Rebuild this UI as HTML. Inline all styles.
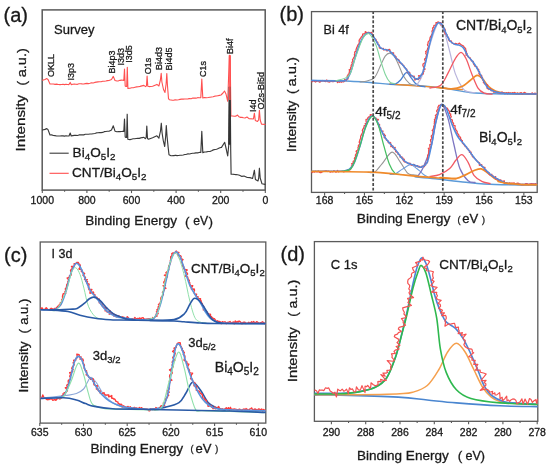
<!DOCTYPE html><html><head><meta charset="utf-8"><style>html,body{margin:0;padding:0;background:#fff;}svg{display:block;filter:blur(0.35px);}</style></head><body><svg width="550" height="465" viewBox="0 0 550 465" style="font-family:&quot;Liberation Sans&quot;, sans-serif">
<style>text{stroke:#1a1a1a;stroke-width:0.3px;paint-order:fill;}</style>
<rect width="550" height="465" fill="#fff"/>
<rect x="42.2" y="9.9" width="223" height="180.2" fill="none" stroke="#5a5a5a" stroke-width="1.5"/>
<line x1="42.3" y1="190.1" x2="42.3" y2="193.1" stroke="#5a5a5a" stroke-width="1.1"/>
<line x1="86.9" y1="190.1" x2="86.9" y2="193.1" stroke="#5a5a5a" stroke-width="1.1"/>
<line x1="131.5" y1="190.1" x2="131.5" y2="193.1" stroke="#5a5a5a" stroke-width="1.1"/>
<line x1="176.1" y1="190.1" x2="176.1" y2="193.1" stroke="#5a5a5a" stroke-width="1.1"/>
<line x1="220.7" y1="190.1" x2="220.7" y2="193.1" stroke="#5a5a5a" stroke-width="1.1"/>
<line x1="265.3" y1="190.1" x2="265.3" y2="193.1" stroke="#5a5a5a" stroke-width="1.1"/>
<line x1="64.6" y1="190.1" x2="64.6" y2="191.7" stroke="#5a5a5a" stroke-width="1.1"/>
<line x1="109.2" y1="190.1" x2="109.2" y2="191.7" stroke="#5a5a5a" stroke-width="1.1"/>
<line x1="153.8" y1="190.1" x2="153.8" y2="191.7" stroke="#5a5a5a" stroke-width="1.1"/>
<line x1="198.4" y1="190.1" x2="198.4" y2="191.7" stroke="#5a5a5a" stroke-width="1.1"/>
<line x1="243" y1="190.1" x2="243" y2="191.7" stroke="#5a5a5a" stroke-width="1.1"/>
<text x="42.3" y="203.8" font-size="10.5" text-anchor="middle" fill="#1a1a1a" >1000</text>
<text x="86.9" y="203.8" font-size="10.5" text-anchor="middle" fill="#1a1a1a" >800</text>
<text x="131.5" y="203.8" font-size="10.5" text-anchor="middle" fill="#1a1a1a" >600</text>
<text x="176.1" y="203.8" font-size="10.5" text-anchor="middle" fill="#1a1a1a" >400</text>
<text x="220.7" y="203.8" font-size="10.5" text-anchor="middle" fill="#1a1a1a" >200</text>
<text x="265.3" y="203.8" font-size="10.5" text-anchor="middle" fill="#1a1a1a" >0</text>
<text x="3.5" y="21.5" font-size="20" text-anchor="start" fill="#1a1a1a" >(a)</text>
<text x="54" y="34.2" font-size="13" text-anchor="start" fill="#1a1a1a" >Survey</text>
<text x="85.2" y="225.2" font-size="13.5" text-anchor="start" fill="#1a1a1a" textLength="91.9" lengthAdjust="spacingAndGlyphs" >Binding Energy</text>
<text x="185.1" y="225.7" font-size="13.5" text-anchor="start" fill="#1a1a1a" >(</text>
<text x="208.4" y="225.7" font-size="13.5" text-anchor="start" fill="#1a1a1a" >)</text>
<text x="193.3" y="225.2" font-size="13.5" text-anchor="start" fill="#1a1a1a" textLength="14.9" lengthAdjust="spacingAndGlyphs" >eV</text>
<text x="0" y="0" font-size="13.5" text-anchor="start" fill="#1a1a1a" textLength="56.6" lengthAdjust="spacingAndGlyphs" transform="translate(25.3,151.4) rotate(-90)">Intensity</text>
<text x="0" y="0" font-size="13.5" text-anchor="start" fill="#1a1a1a" transform="translate(25.6,85.4) rotate(-90)">(</text>
<text x="0" y="0" font-size="13.5" text-anchor="start" fill="#1a1a1a" textLength="29.1" lengthAdjust="spacingAndGlyphs" transform="translate(25.6,77.3) rotate(-90)">a.u.)</text>
<path d="M42.5 80.2 L45 79.4 L46.8 78.6 L48 79.5 L50 84 L51.67 83.99 L53.33 83.99 L55 84.39 L56.67 84.14 L58.33 84.52 L60 84.6 L61.5 84.52 L63 84.33 L64.5 84.6 L66 84.32 L67.5 84.56 L69 84.6 L70.2 82.4 L71.2 84.6 L72.77 84.23 L74.33 84.12 L75.9 84.2 L77.47 84.33 L79.03 83.79 L80.6 83.73 L82.17 83.86 L83.73 83.94 L85.3 83.6 L86.87 83.37 L88.43 83.6 L90 83.2 L91.58 82.7 L93.17 82.97 L94.75 82.4 L96.33 82.09 L97.92 81.85 L99.5 81.74 L101.08 81.81 L102.67 81.21 L104.25 81.22 L105.83 81.03 L107.42 80.65 L109 80.5 L111.5 79.5 L113.3 76.4 L115 80.5 L117 81 L118.5 80.83 L120 80.34 L121.5 80.14 L123 80.2 L123.8 80.5 L124.5 69 L125.2 86 L126 86.5 L126.7 86.5 L127.3 67.3 L127.9 88.4 L130 88.2 L131.67 87.72 L133.33 87.71 L135 87.26 L136.67 86.89 L138.33 86.75 L140 86.4 L143.9 85.4 L145.5 86.6 L146.5 85.8 L147.1 76 L147.8 86.2 L149 86.6 L152.6 86.3 L156.9 84.4 L158.9 86 L160.4 80 L161.2 73.2 L161.9 82 L163.5 89.5 L165 92.5 L166.1 84 L166.8 73.6 L167.5 86 L168.5 98.6 L169.5 99.8 L172.4 100.3 L173.92 100.09 L175.44 99.82 L176.96 99.94 L178.48 99.7 L180 99.4 L181.6 99.11 L183.2 99.17 L184.8 99 L186.4 99.07 L188 98.85 L189.6 98.44 L191.2 98.72 L192.8 98.06 L194.4 98.1 L196 98.17 L197.6 97.67 L199.2 97.73 L200.8 97.6 L201.8 79 L202.8 98 L204.6 97.52 L206.4 97.7 L208.2 97.56 L210 97.2 L211.57 96.93 L213.14 96.8 L214.71 96.15 L216.29 96.06 L217.86 95.69 L219.43 95.36 L221 95 L223 93 L224.5 91 L226 94 L227.7 101.3 L229.4 55.2 L230.2 55.5 L230.9 116 L232.6 116.01 L234.3 116.27 L236 116.1 L237.5 115 L239 116.8 L240.5 117.37 L242 117.38 L243.5 117.8 L245 118 L247 117 L249 118.6 L253.4 119 L254.4 113.2 L255.3 120.5 L257.5 121.4 L258.6 120 L259.4 110.3 L260.2 120 L261.5 124.2 L265 124.4" fill="none" stroke="#ff5050" stroke-width="1.1" stroke-linejoin="round" stroke-linecap="round" />
<path d="M42.5 130 L45 129.4 L46.8 128.6 L48 129.6 L50 135 L51.67 134.9 L53.33 135.45 L55 135.59 L56.67 135.96 L58.33 136.03 L60 136 L61.5 135.87 L63 135.93 L64.5 136.1 L66 135.71 L67.5 135.98 L69 136 L70.2 133 L71.2 136 L72.77 135.63 L74.33 135.44 L75.9 135.24 L77.47 135.49 L79.03 134.94 L80.6 134.85 L82.17 134.77 L83.73 134.89 L85.3 134.25 L86.87 134.3 L88.43 134.2 L90 134 L91.58 134 L93.17 133.72 L94.75 133.52 L96.33 132.93 L97.92 132.78 L99.5 132.52 L101.08 132.6 L102.67 132.41 L104.25 131.69 L105.83 131.47 L107.42 131.27 L109 131.2 L111.5 130 L113.3 125.8 L115 131.2 L117 131.8 L118.5 131.54 L120 131.59 L121.5 131.55 L123 131.4 L123.8 131.5 L124.5 119 L125.2 137 L126 137.5 L126.6 137.5 L127.2 114.2 L127.8 139.2 L130 139.6 L131.54 139.2 L133.09 138.79 L134.63 138.78 L136.18 138.5 L137.72 138.36 L139.27 138.34 L140.81 137.93 L142.36 137.56 L143.9 137.3 L145.3 138.7 L146.2 137.5 L146.8 126.1 L147.5 138.5 L148.5 139.2 L152.6 137.7 L156.9 135.8 L158.9 138.2 L160.5 131 L161.3 123.2 L162.1 133 L163.2 140.2 L164.7 146.5 L165.7 136 L166.3 125.6 L167.1 137 L168.1 146.9 L169 154.7 L171 155.7 L172.5 155.69 L174 155.64 L175.5 155.18 L177 155.61 L178.5 155.45 L180 155.2 L181.6 155.22 L183.2 154.96 L184.8 154.51 L186.4 154.31 L188 153.92 L189.6 154.03 L191.2 153.48 L192.8 153.28 L194.4 153.16 L196 152.92 L197.6 152.82 L199.2 152.44 L200.8 152.5 L201.8 131.3 L202.8 152.6 L204.6 152.03 L206.4 151.84 L208.2 151.54 L210 151.5 L211.67 150.75 L213.33 149.88 L215 149.5 L216.62 149.2 L218.25 148.52 L219.88 147.71 L221.5 147.4 L224.7 142.3 L226 148 L227.7 156 L228.8 144.7 L229.2 87 L230.2 87 L230.7 150 L231.1 174.2 L232.72 174.2 L234.35 174.41 L235.97 174.57 L237.6 174.8 L239.5 175.2 L241.9 176.4 L244 176 L247.3 177.5 L250 177.6 L252.6 178.5 L254.4 170.2 L255.4 179.5 L258 180.9 L258.7 178 L259.4 168.2 L260.2 178 L262 183.8 L265 184.4" fill="none" stroke="#3a3a3a" stroke-width="1.15" stroke-linejoin="round" stroke-linecap="round" />
<path d="M228.2 144.7 L229.0 92 L230.1 92 L230.9 144.7 Z" fill="#333"/>
<path d="M229.3 55.5 L229.5 100 M230.3 55.5 L230.2 100" stroke="#ff5050" stroke-width="0.9" fill="none"/>
<line x1="49.5" y1="153.2" x2="68.7" y2="153.2" stroke="#3a3a3a" stroke-width="1.1"/>
<line x1="49.5" y1="173.3" x2="68.7" y2="173.3" stroke="#ff4d4d" stroke-width="1.1"/>
<text x="72.6" y="156.9" font-size="13.6" text-anchor="start" fill="#1a1a1a" >Bi<tspan font-size="9.8" dy="3">4</tspan><tspan dy="-3">O</tspan><tspan font-size="9.8" dy="3">5</tspan><tspan dy="-3">I</tspan><tspan font-size="9.8" dy="3">2</tspan></text>
<text x="72" y="176.6" font-size="13.6" text-anchor="start" fill="#1a1a1a" >CNT/Bi<tspan font-size="9.8" dy="3">4</tspan><tspan dy="-3">O</tspan><tspan font-size="9.8" dy="3">5</tspan><tspan dy="-3">I</tspan><tspan font-size="9.8" dy="3">2</tspan></text>
<text x="0" y="0" font-size="9" text-anchor="start" fill="#1a1a1a" transform="translate(53.54,77) rotate(-90)">OKLL</text>
<text x="0" y="0" font-size="9" text-anchor="start" fill="#1a1a1a" transform="translate(74.04,80.5) rotate(-90)">I3p3</text>
<text x="0" y="0" font-size="9" text-anchor="start" fill="#1a1a1a" transform="translate(114.54,73.6) rotate(-90)">Bi4p3</text>
<text x="0" y="0" font-size="9" text-anchor="start" fill="#1a1a1a" transform="translate(124.04,65.5) rotate(-90)">I3d3</text>
<text x="0" y="0" font-size="9" text-anchor="start" fill="#1a1a1a" transform="translate(132.04,62.7) rotate(-90)">I3d5</text>
<text x="0" y="0" font-size="9" text-anchor="start" fill="#1a1a1a" transform="translate(150.54,74.2) rotate(-90)">O1s</text>
<text x="0" y="0" font-size="9" text-anchor="start" fill="#1a1a1a" transform="translate(161.74,70) rotate(-90)">Bi4d3</text>
<text x="0" y="0" font-size="9" text-anchor="start" fill="#1a1a1a" transform="translate(172.14,70.5) rotate(-90)">Bi4d5</text>
<text x="0" y="0" font-size="9" text-anchor="start" fill="#1a1a1a" transform="translate(205.94,77) rotate(-90)">C1s</text>
<text x="0" y="0" font-size="9" text-anchor="start" fill="#1a1a1a" transform="translate(232.54,53.9) rotate(-90)">Bi4f</text>
<text x="0" y="0" font-size="9" text-anchor="start" fill="#1a1a1a" transform="translate(256.24,112) rotate(-90)">I4d</text>
<text x="0" y="0" font-size="9" text-anchor="start" fill="#1a1a1a" transform="translate(264.04,109.4) rotate(-90)">O2s-Bi5d</text>
<rect x="311.5" y="11.6" width="225.7" height="180.8" fill="none" stroke="#5a5a5a" stroke-width="1.3"/>
<line x1="324.6" y1="192.4" x2="324.6" y2="195.4" stroke="#5a5a5a" stroke-width="1.1"/>
<line x1="364.45" y1="192.4" x2="364.45" y2="195.4" stroke="#5a5a5a" stroke-width="1.1"/>
<line x1="404.3" y1="192.4" x2="404.3" y2="195.4" stroke="#5a5a5a" stroke-width="1.1"/>
<line x1="444.15" y1="192.4" x2="444.15" y2="195.4" stroke="#5a5a5a" stroke-width="1.1"/>
<line x1="484" y1="192.4" x2="484" y2="195.4" stroke="#5a5a5a" stroke-width="1.1"/>
<line x1="523.85" y1="192.4" x2="523.85" y2="195.4" stroke="#5a5a5a" stroke-width="1.1"/>
<line x1="344.53" y1="192.4" x2="344.53" y2="194" stroke="#5a5a5a" stroke-width="1.1"/>
<line x1="384.38" y1="192.4" x2="384.38" y2="194" stroke="#5a5a5a" stroke-width="1.1"/>
<line x1="424.23" y1="192.4" x2="424.23" y2="194" stroke="#5a5a5a" stroke-width="1.1"/>
<line x1="464.08" y1="192.4" x2="464.08" y2="194" stroke="#5a5a5a" stroke-width="1.1"/>
<line x1="503.93" y1="192.4" x2="503.93" y2="194" stroke="#5a5a5a" stroke-width="1.1"/>
<text x="324.6" y="204.2" font-size="10.5" text-anchor="middle" fill="#1a1a1a" >168</text>
<text x="364.45" y="204.2" font-size="10.5" text-anchor="middle" fill="#1a1a1a" >165</text>
<text x="404.3" y="204.2" font-size="10.5" text-anchor="middle" fill="#1a1a1a" >162</text>
<text x="444.15" y="204.2" font-size="10.5" text-anchor="middle" fill="#1a1a1a" >159</text>
<text x="484" y="204.2" font-size="10.5" text-anchor="middle" fill="#1a1a1a" >156</text>
<text x="523.85" y="204.2" font-size="10.5" text-anchor="middle" fill="#1a1a1a" >153</text>
<text x="279.5" y="20.5" font-size="20" text-anchor="start" fill="#1a1a1a" >(b)</text>
<text x="323.6" y="34.2" font-size="12.5" text-anchor="start" fill="#1a1a1a" >Bi 4f</text>
<text x="356.7" y="223.2" font-size="13.5" text-anchor="start" fill="#1a1a1a" textLength="93.7" lengthAdjust="spacingAndGlyphs" >Binding Energy</text>
<text x="457.4" y="222.9" font-size="9" text-anchor="start" fill="#1a1a1a" >(</text>
<text x="481.9" y="222.9" font-size="9" text-anchor="start" fill="#1a1a1a" >)</text>
<text x="462.2" y="223.2" font-size="13.5" text-anchor="start" fill="#1a1a1a" textLength="16" lengthAdjust="spacingAndGlyphs" >eV</text>
<text x="0" y="0" font-size="13.5" text-anchor="start" fill="#1a1a1a" textLength="51.4" lengthAdjust="spacingAndGlyphs" transform="translate(295.5,151.9) rotate(-90)">Intensity</text>
<text x="0" y="0" font-size="13.5" text-anchor="start" fill="#1a1a1a" transform="translate(295.8,94.1) rotate(-90)">(</text>
<text x="0" y="0" font-size="13.5" text-anchor="start" fill="#1a1a1a" textLength="29.6" lengthAdjust="spacingAndGlyphs" transform="translate(295.8,86.6) rotate(-90)">a.u.)</text>
<path d="M312 80.4 C316.67 80.45 330.32 80.37 340 80.7 C349.68 81.03 361.82 81.8 370.1 82.4 C378.38 83 382.22 83.82 389.7 84.3 C397.18 84.78 406.22 84.67 415 85.3 C423.78 85.93 433.27 86.92 442.4 88.1 C451.53 89.28 461.03 91.45 469.8 92.4 C478.57 93.35 483.88 93.5 495 93.8 C506.12 94.1 529.58 94.13 536.5 94.2" fill="none" stroke="#5b9ad8" stroke-width="1.5" stroke-linejoin="round" stroke-linecap="round"/>
<path d="M389.7 84.1 C393.92 84.38 407.73 85.3 415 85.8 C422.27 86.3 427.22 86.6 433.3 87.1 C439.38 87.6 446.63 88.38 451.5 88.8 C456.37 89.22 460.67 89.47 462.5 89.6" fill="none" stroke="#f08a2a" stroke-width="1.4" stroke-linejoin="round" stroke-linecap="round"/>
<path d="M360 82 C361.18 81.83 364.65 81.78 367.1 81 C369.55 80.22 372.43 79.93 374.7 77.3 C376.97 74.67 378.95 68.72 380.7 65.2 C382.45 61.68 383.7 58.22 385.2 56.2 C386.7 54.18 388.2 53.1 389.7 53.1 C391.2 53.1 392.68 54.18 394.2 56.2 C395.72 58.22 397.28 61.95 398.8 65.2 C400.32 68.45 401.55 72.68 403.3 75.7 C405.05 78.72 407.35 81.67 409.3 83.3 C411.25 84.93 414.05 85.13 415 85.5" fill="none" stroke="#969696" stroke-width="1.1" stroke-linejoin="round" stroke-linecap="round"/>
<path d="M390 84.3 C390.95 84.22 393.98 84.47 395.7 83.8 C397.42 83.13 398.53 82.15 400.3 80.3 C402.07 78.45 404.55 73.2 406.3 72.7 C408.05 72.2 409.3 75.53 410.8 77.3 C412.3 79.07 413.77 81.85 415.3 83.3 C416.83 84.75 418.38 85.42 420 86 C421.62 86.58 424.17 86.67 425 86.8" fill="none" stroke="#4a80d0" stroke-width="1.3" stroke-linejoin="round" stroke-linecap="round"/>
<path d="M416 86 C417.05 84.22 420.03 81.97 422.3 75.3 C424.57 68.63 427.17 54.38 429.6 46 C432.03 37.62 435.22 28.65 436.9 25 C438.58 21.35 438.48 23.03 439.7 24.1 C440.92 25.17 442.53 26.83 444.2 31.4 C445.87 35.97 447.87 44.5 449.7 51.5 C451.53 58.5 453.07 67.3 455.2 73.4 C457.33 79.5 460.37 85.05 462.5 88.1 C464.63 91.15 465.92 90.95 468 91.7 C470.08 92.45 473.83 92.45 475 92.6" fill="none" stroke="#b8b4dc" stroke-width="1.2" stroke-linejoin="round" stroke-linecap="round"/>
<path d="M430 88 C431.77 87.55 437.62 87.73 440.6 85.3 C443.58 82.87 445.47 77.82 447.9 73.4 C450.33 68.98 453.02 62.3 455.2 58.8 C457.38 55.3 459.18 52.4 461 52.4 C462.82 52.4 464.33 55.3 466.1 58.8 C467.87 62.3 469.62 68.52 471.6 73.4 C473.58 78.28 475.87 84.8 478 88.1 C480.13 91.4 482.07 92.18 484.4 93.2 C486.73 94.22 490.73 94.03 492 94.2" fill="none" stroke="#f25a64" stroke-width="1.3" stroke-linejoin="round" stroke-linecap="round"/>
<path d="M440 87.6 C441.92 87.82 447.75 89.13 451.5 88.9 C455.25 88.67 459.45 87.55 462.5 86.2 C465.55 84.85 467.37 82.62 469.8 80.8 C472.23 78.98 474.97 75.62 477.1 75.3 C479.23 74.98 480.77 77.08 482.6 78.9 C484.43 80.72 486.03 84.22 488.1 86.2 C490.17 88.18 492.18 89.67 495 90.8 C497.82 91.93 498.08 92.47 505 93 C511.92 93.53 531.25 93.83 536.5 94" fill="none" stroke="#f08a2a" stroke-width="1.7" stroke-linejoin="round" stroke-linecap="round"/>
<path d="M311.98 81.87 L312.91 81 L313.75 80.68 L314.69 81.52 L315.55 81.98 L316.49 81.3 L317.49 81.02 L318.33 80.69 L319.17 81.98 L320.05 82.03 L320.98 80.95 L321.91 81.09 L322.86 80.52 L323.81 80.84 L324.77 81.45 L325.74 81.56 L326.73 80.01 L327.68 81.59 L328.64 81.88 L329.6 82.09 L330.55 81.42 L331.48 81.4 L332.4 81.68 L333.29 81.53 L334.15 81.35 L334.99 81.13 L335.8 80.91 L336.75 81.4 L337.65 82.5 L338.47 81.13 L339.37 82.29 L340.53 81.59 L341.45 82.3 L342.56 81.5 L343.37 81.95 L344.34 81.41 L344.54 79.64 L346.24 80.61 L346.34 79.09 L347.84 79.21 L348 78.06 L347.08 76.28 L347.97 75.53 L348.09 74.71 L348.58 73.99 L349.52 73.38 L349.1 72.14 L350.17 71.45 L349.15 69.91 L350.77 69.18 L350.52 67.76 L351.26 66.59 L351.14 65.12 L352.35 64 L351.89 62.4 L352.87 61.22 L352.52 59.67 L353.24 58.48 L353.88 57.32 L354.76 56.22 L354.34 54.7 L354.89 53.49 L354.66 52.03 L356.12 51.11 L356.02 49.72 L356.44 48.51 L356.95 47.37 L357.38 46.24 L357.8 45.15 L358.59 44.26 L359.2 43.38 L359.29 42.32 L359.19 41.21 L359.14 40.13 L359.81 39.44 L360.18 38.63 L360.73 37.95 L361.38 36.93 L362.24 36.13 L362.62 35.06 L362.86 33.89 L364.38 33.97 L365.18 33.52 L365.28 31.65 L367.23 33.03 L367.94 32.37 L369.06 32.32 L369.62 33.59 L371.4 32.36 L372.07 33.37 L372.07 34.61 L372.91 35.05 L373.22 36.02 L373.32 37.19 L374.25 37.9 L375.06 38.75 L375.98 39.53 L376.35 40.59 L376.62 41.73 L377.83 42.41 L377.4 44.02 L378.72 44.61 L379.43 45.45 L379.38 46.72 L379.38 47.99 L380.52 48.36 L381.63 48.36 L382.44 48.6 L383.4 48.38 L383.74 49.99 L384.84 49.64 L385.67 49.34 L386.45 49.82 L386.99 51.1 L388.37 49.69 L389.67 49.44 L390.11 50.62 L390.19 52.05 L391.1 52.52 L392.09 53.02 L393.62 52.85 L393.41 54.23 L393.76 55.14 L394.96 55.43 L394.83 56.74 L396.26 56.79 L395.78 58.34 L396.61 59 L397.83 59.25 L398.68 59.52 L398.99 60.38 L399.45 61.09 L399.2 62.49 L400.21 62.68 L400.84 63.29 L401.46 63.92 L402.51 64.2 L402.71 65.22 L403.77 65.53 L404.05 66.5 L404.46 67.37 L405.24 67.96 L405.97 68.66 L406.75 69.35 L406.74 70.61 L407.44 71.35 L407.53 72.53 L409.39 72.26 L409.89 72.96 L409.82 74.19 L410.32 74.89 L410.67 75.75 L411.97 75.82 L412.77 76.41 L414.16 76.08 L414.31 77.53 L414.7 78.67 L414.95 80.11 L416.54 78.56 L417.27 79.1 L418.49 79.53 L418.71 78.13 L420 78.27 L418.54 75.73 L420.11 75.85 L420.94 75.2 L421.86 74.47 L423.36 73.9 L422.81 72.4 L423.97 71.53 L423.26 69.93 L425.09 69.06 L423.65 67.19 L422.89 65.49 L423.02 63.98 L424.9 62.86 L425.46 61.38 L424.56 59.52 L424.76 58.73 L425.93 58.12 L425.96 57.24 L426.15 56.36 L426.61 55.53 L426.52 54.57 L425.67 53.45 L426.16 52.6 L425.61 51.53 L426.95 50.85 L427.17 49.94 L427.81 49.13 L427.54 48.14 L428.37 47.4 L428.81 46.59 L427.67 45.44 L427.47 44.52 L427.99 43.8 L428.11 42.19 L429.08 40.83 L429.99 39.49 L429.95 37.93 L430.59 36.61 L431.38 35.38 L432.07 34.2 L432.36 32.95 L431.98 31.54 L432.31 30.39 L433.05 29.44 L432.53 28 L433.6 27.33 L433.84 26.35 L433.96 25.36 L435.36 25.17 L436.46 24.56 L435.82 22.82 L437.18 22.42 L438.38 21.94 L439.48 22.58 L440.6 22.59 L441.42 23.26 L440.92 24.94 L442.73 24.78 L442.64 26.16 L442.97 26.96 L443.52 27.75 L444.52 28.44 L444.98 29.38 L445.44 30.34 L444.48 31.86 L445.42 32.57 L444.91 33.84 L446.45 34.2 L447.19 34.93 L446.89 36.11 L447.77 36.76 L448.15 37.61 L448.92 38.23 L448.44 39.47 L448.88 40.21 L449.54 41.08 L451.11 40.78 L451.56 41.72 L451.9 42.85 L452.8 43.23 L453.56 43.74 L454.35 44.1 L455.36 43.44 L456.19 43.65 L457.09 44.23 L458.18 44.03 L459.48 43.11 L460.14 44.01 L460.88 44.59 L461.71 45.14 L462.72 45.59 L463.75 46.24 L464.05 47.36 L465.06 47.96 L465.69 48.96 L465.79 50.29 L466.15 51.06 L466.42 51.87 L465.69 53.18 L467.03 53.45 L465.85 55.04 L467.26 55.2 L467.72 56.29 L468.3 57.09 L469.2 57.59 L470.24 57.92 L470.42 58.99 L470.95 59.74 L471.38 60.59 L472.18 61.1 L473.22 61.45 L473.23 62.63 L473.5 63.72 L474.03 64.61 L474.67 65.42 L475.1 66.39 L476.83 66.58 L477.04 67.73 L477.32 68.86 L478.7 69.41 L478.25 71.02 L479.31 71.39 L479.71 72.12 L478.92 73.45 L479.29 74.22 L479.97 74.84 L481.26 75.18 L481.83 75.87 L480.98 77.27 L482.49 77.48 L482.21 78.62 L482.59 79.33 L483.06 80.4 L483.72 81.41 L483.36 82.51 L484.14 83.03 L484.41 83.81 L485.64 84.06 L486.98 84.63 L487.86 85.36 L487.09 87.19 L487.17 88.49 L488.3 88.61 L488.84 89.47 L490.48 88.68 L490.76 89.76 L491.2 90.78 L492.34 90.27 L493.07 90.77 L493.56 92.18 L494.67 91.9 L495.58 92.02 L496.44 92.16 L497.33 92.38 L498.06 92.84 L499.04 92.74 L499.92 93.3 L500.84 93.18 L502.02 91.96 L502.86 92.67 L503.89 92.69 L504.97 93.88 L505.85 93.13 L506.81 92.63 L507.62 93.82 L508.57 92.54 L509.51 93.39 L510.32 92.98 L511.14 93.29 L512.01 93.12 L512.9 92.6 L513.77 93.5 L514.71 92.44 L515.62 93.74 L516.56 93.84 L517.53 92.96 L518.47 93.95 L519.44 93.58 L520.42 92.89 L521.39 92.74 L522.33 94.4 L523.3 93.15 L524.26 92.41 L525.2 92.8 L526.11 93.6 L527.02 93.81 L527.91 93.65 L528.77 94.13 L529.62 93.66 L530.44 93.62 L531.42 93.61 L532.36 92.89 L533.23 93.68 L534.04 94.36 L534.95 93 L535.84 94.18 L536.5 93.85" fill="none" stroke="#f04a4a" stroke-width="1.3" stroke-linejoin="round" stroke-linecap="round" />
<path d="M312 80.6 C316.67 80.65 334.33 81 340 80.9 C345.67 80.8 344.25 81.37 346 80 C347.75 78.63 348.98 76.42 350.5 72.7 C352.02 68.98 353.58 62.47 355.1 57.7 C356.62 52.93 358.1 47.75 359.6 44.1 C361.1 40.45 362.6 37.68 364.1 35.8 C365.6 33.92 367.22 32.92 368.6 32.8 C369.98 32.68 371.13 33.72 372.4 35.1 C373.67 36.48 374.95 39.1 376.2 41.1 C377.45 43.1 378.65 45.72 379.9 47.1 C381.15 48.48 382.32 48.9 383.7 49.4 C385.08 49.9 386.82 49.48 388.2 50.1 C389.58 50.72 390.75 51.83 392 53.1 C393.25 54.37 394.32 56.18 395.7 57.7 C397.08 59.22 398.78 60.57 400.3 62.2 C401.82 63.83 403.3 65.62 404.8 67.5 C406.3 69.38 407.8 71.87 409.3 73.5 C410.8 75.13 412.47 76.35 413.8 77.3 C415.13 78.25 415.88 79.85 417.3 79.2 C418.72 78.55 420.85 76.48 422.3 73.4 C423.75 70.32 424.78 65.57 426 60.7 C427.22 55.83 428.38 49.08 429.6 44.2 C430.82 39.32 432.08 34.75 433.3 31.4 C434.52 28.05 435.93 25.55 436.9 24.1 C437.87 22.65 438.18 22.55 439.1 22.7 C440.02 22.85 441.23 23.23 442.4 25 C443.57 26.77 444.88 30.7 446.1 33.3 C447.32 35.9 448.33 38.78 449.7 40.6 C451.07 42.42 452.78 43.45 454.3 44.2 C455.82 44.95 457.28 44.48 458.8 45.1 C460.32 45.72 461.87 46.07 463.4 47.9 C464.93 49.73 466.33 53.67 468 56.1 C469.67 58.53 471.73 60.22 473.4 62.5 C475.07 64.78 476.47 67.07 478 69.8 C479.53 72.53 480.92 75.85 482.6 78.9 C484.28 81.95 486.03 85.97 488.1 88.1 C490.17 90.23 492.18 90.82 495 91.7 C497.82 92.58 498.08 93.02 505 93.4 C511.92 93.78 531.25 93.9 536.5 94" fill="none" stroke="#4f8ade" stroke-width="1.5" stroke-linejoin="round" stroke-linecap="round"/>
<path d="M336 80.8 C338.17 79.92 345.82 79.22 349 75.5 C352.18 71.78 352.83 64.62 355.1 58.5 C357.37 52.38 360.47 42.95 362.6 38.8 C364.73 34.65 366.4 33.97 367.9 33.6 C369.4 33.23 370.22 34.6 371.6 36.6 C372.98 38.6 374.68 41.58 376.2 45.6 C377.72 49.62 379.2 55.93 380.7 60.7 C382.2 65.47 383.7 70.68 385.2 74.2 C386.7 77.72 388.07 80.2 389.7 81.8 C391.33 83.4 394.12 83.47 395 83.8" fill="none" stroke="#7fd49c" stroke-width="1.1" stroke-linejoin="round" stroke-linecap="round"/>
<path d="M415 176.8 C418.4 177.12 426.9 177.78 435.4 178.7 C443.9 179.62 456.07 181.32 466 182.3 C475.93 183.28 483.25 184.17 495 184.6 C506.75 185.03 529.58 184.85 536.5 184.9" fill="none" stroke="#5b9ad8" stroke-width="1.5" stroke-linejoin="round" stroke-linecap="round"/>
<path d="M368 172.3 C369.12 172.27 372.37 173.5 374.7 172.1 C377.03 170.7 379.1 167.23 382 163.9 C384.9 160.57 389.05 152.4 392.1 152.1 C395.15 151.8 397.72 158.6 400.3 162.1 C402.88 165.6 405.47 170.97 407.6 173.1 C409.73 175.23 411.37 174.5 413.1 174.9 C414.83 175.3 417.18 175.4 418 175.5" fill="none" stroke="#969696" stroke-width="1.1" stroke-linejoin="round" stroke-linecap="round"/>
<path d="M390 174.5 C390.8 174.42 392.78 174.85 394.8 174 C396.82 173.15 399.52 170.93 402.1 169.4 C404.68 167.87 407.87 164.95 410.3 164.8 C412.73 164.65 415.08 167.43 416.7 168.5 C418.32 169.57 418.92 170.25 420 171.2 C421.08 172.15 421.87 173.23 423.2 174.2 C424.53 175.17 427.2 176.53 428 177" fill="none" stroke="#6f9fdc" stroke-width="1.1" stroke-linejoin="round" stroke-linecap="round"/>
<path d="M418 176 C418.87 174.57 420.98 172.4 423.2 167.4 C425.42 162.4 429.17 153.57 431.3 146 C433.43 138.43 434.3 128.8 436 122 C437.7 115.2 439.55 105.97 441.5 105.2 C443.45 104.43 445.65 110.93 447.7 117.4 C449.75 123.87 451.77 135.48 453.8 144 C455.83 152.52 457.52 162.38 459.9 168.5 C462.28 174.62 465.58 178.37 468.1 180.7 C470.62 183.03 473.85 182.2 475 182.5" fill="none" stroke="#7d76c2" stroke-width="1.3" stroke-linejoin="round" stroke-linecap="round"/>
<path d="M430 176.5 C431.58 176.18 436.22 175.93 439.5 174.6 C442.78 173.27 446.98 170.88 449.7 168.5 C452.42 166.12 453.77 162.62 455.8 160.3 C457.83 157.98 459.85 154.27 461.9 154.6 C463.95 154.93 466.05 158.8 468.1 162.3 C470.15 165.8 471.83 172.37 474.2 175.6 C476.57 178.83 479.67 180.38 482.3 181.7 C484.93 183.02 488.72 183.2 490 183.5" fill="none" stroke="#f25a64" stroke-width="1.3" stroke-linejoin="round" stroke-linecap="round"/>
<path d="M440 177.6 C442.63 177.77 451.47 179.1 455.8 178.6 C460.13 178.1 462.93 175.95 466 174.6 C469.07 173.25 471.65 171.45 474.2 170.5 C476.75 169.55 478.92 168.38 481.3 168.9 C483.68 169.42 486.22 171.97 488.5 173.6 C490.78 175.23 492.25 177.13 495 178.7 C497.75 180.27 500.83 182.03 505 183 C509.17 183.97 514.75 184.22 520 184.5 C525.25 184.78 533.75 184.67 536.5 184.7" fill="none" stroke="#f08a2a" stroke-width="1.7" stroke-linejoin="round" stroke-linecap="round"/>
<path d="M312 172.59 L312.91 171.67 L313.73 171.95 L314.67 172.07 L315.53 171.28 L316.45 171.78 L317.42 171.97 L318.24 170.84 L319.08 172.1 L319.95 172.53 L320.85 172.6 L321.76 172.14 L322.7 171.49 L323.64 171.39 L324.59 171.23 L325.55 170.84 L326.51 170.92 L327.48 171.5 L328.43 171.12 L329.39 171.49 L330.33 172.16 L331.26 171.38 L332.18 171.8 L333.07 171.94 L333.94 170.71 L334.79 171.38 L335.62 172.06 L336.59 171.82 L337.49 170.46 L338.38 171.87 L339.3 171.29 L340.4 171.3 L341.5 171.31 L342.46 171.22 L343.35 171.76 L344.34 171.68 L345.17 171.43 L346.08 171.41 L346.82 170.56 L347.42 169.89 L348.84 170.68 L349.19 169.54 L350.44 169.72 L350.75 168.63 L351.21 167.85 L351.64 167.08 L351.45 165.85 L352.97 165.72 L351.55 163.73 L352.88 163.18 L353.43 162.53 L353.14 161.43 L354.17 160.86 L354.99 160.08 L354.39 158.66 L354.82 157.59 L355.87 156.67 L355.39 155.18 L356.04 154.04 L357.24 153.03 L356.09 151.29 L357.27 150.26 L358.41 149.21 L357.94 147.7 L358.49 146.52 L358.4 145.19 L360.07 144.12 L359.21 142.28 L359.67 140.8 L360.21 139.33 L360.65 137.84 L360.66 136.23 L361.37 134.84 L362.08 133.47 L362.99 132.21 L362.34 130.55 L362.81 129.27 L363.58 128.16 L364.06 127 L364.17 125.74 L366.28 125.25 L365.21 123.61 L367.08 123.17 L366.08 121.6 L366.07 120.49 L366.05 119.41 L367.63 119.17 L367.75 117.87 L368.66 116.93 L370.25 116.83 L370.24 114.75 L371.89 114.79 L372.87 116.15 L373.29 117.02 L374.33 117.24 L374.96 117.81 L376.08 118.16 L376.25 119.36 L378.39 119.42 L377.05 121.53 L377.5 122.27 L377.99 123.05 L377.98 124.1 L379.56 124.49 L379.51 125.6 L378.92 126.94 L380.02 127.54 L380.94 128.19 L380.02 129.63 L381.2 130.05 L381.4 130.94 L383.07 131.07 L382.51 132.32 L382.49 133.28 L382.8 134.07 L384.4 134.15 L383.64 135.49 L385.36 135.42 L384.13 137.54 L385.42 138.13 L385.97 138.97 L386.33 139.87 L387.11 140.4 L388.07 140.74 L388.09 141.9 L388.37 142.84 L390.1 142.42 L390.74 143.03 L390.44 144.49 L391.44 144.8 L390.82 146.53 L392.92 145.87 L392.52 147.41 L393.43 147.8 L395.17 147.48 L394.31 149.41 L395.45 149.64 L395.57 150.74 L395.81 151.73 L396.69 152.23 L397.92 152.55 L397.8 153.88 L398.71 154.48 L399.9 154.89 L400.08 155.99 L400.17 157.17 L401.98 156.95 L401.97 158.12 L403.08 158.26 L402.69 159.82 L404.33 159.29 L403.78 161.08 L404.45 161.94 L405.71 161.99 L406.52 162.53 L407.49 162.74 L408.07 163.57 L409.15 163.31 L410.06 163.2 L410.57 164.49 L411.27 165.08 L412.35 164.79 L413.47 164.41 L414.33 164.68 L414.9 165.54 L415.71 166.16 L416.81 165.93 L417.79 165.72 L418.1 166.95 L419.31 166.34 L419.8 167.15 L420.61 167.14 L421.54 167.39 L422.09 166 L423.18 166.33 L424.47 166.59 L424.59 164.93 L425.66 164.88 L425.62 163.67 L426.58 163.19 L427.49 162.44 L427.56 161.17 L427.2 159.7 L427.78 158.44 L427.71 156.89 L427.64 155.26 L428.23 154.56 L428.5 153.76 L428.93 152.98 L428.5 151.99 L428.84 151.16 L428.64 150.2 L429.15 149.37 L428.37 148.27 L430.58 147.77 L429.94 146.68 L429.81 145.69 L429.81 144.71 L431.33 144 L431.35 142.96 L430.9 141.79 L430.49 140.61 L430.66 139.52 L432.29 138.66 L431.58 137.37 L431.21 136.14 L432.03 135.1 L432.81 134.06 L432.83 132.88 L433.36 131.81 L432.17 130.44 L433.17 129.47 L433.45 128.4 L433.89 127.38 L433.69 126.26 L434.31 125.34 L434.54 124.38 L434.23 123.35 L434.53 122.47 L434.36 121.49 L434.73 120.65 L434.37 119.64 L435.24 118.94 L435.29 118.05 L435.51 117.23 L436.28 116.56 L435.41 115.47 L436.77 114.19 L437.72 112.9 L436.6 111.1 L437.3 109.94 L438.3 109.01 L437.84 107.73 L438.27 106.46 L438.79 105.46 L440.11 105.01 L441.01 104.44 L441.89 104.74 L442.63 104.71 L443.32 105.16 L443.77 105.8 L444.94 106.03 L444.99 107.31 L446.29 107.93 L447.56 108.28 L447.59 109.32 L448.37 110.04 L449.03 110.92 L449.65 111.9 L449.3 113.27 L450.74 114.08 L450.51 115.47 L451.26 116.56 L450.28 118.22 L450.83 119.38 L452.43 120.16 L452.09 121.57 L452.86 122.52 L453.63 123.33 L452.65 124.78 L454 125.28 L455.14 125.87 L454.95 127.03 L454.99 128.1 L455.63 128.89 L455.75 129.91 L456.54 130.61 L457.21 131.34 L456.85 132.54 L457.65 133.15 L457.92 133.99 L458.53 134.61 L458.96 135.27 L458.63 136.79 L460.22 136.94 L460.63 137.77 L460.34 139.14 L461.25 139.48 L461.35 140.53 L462.4 140.68 L462.38 141.88 L462.37 143.06 L463.1 143.56 L463.64 144.29 L464.3 144.97 L464.86 145.76 L465.32 146.63 L466.63 146.86 L466.87 147.91 L467.19 148.91 L468.59 149.11 L468.49 150.42 L469.73 150.73 L469.37 152.23 L471.14 152.15 L470.9 153.57 L471.27 154.55 L472.47 154.94 L472.27 156.33 L472.98 157.07 L474.16 157.45 L474.43 158.48 L475.41 158.95 L475.88 159.77 L476.52 160.42 L477.06 161.13 L477.88 161.53 L478.18 162.4 L479.2 162.55 L479.72 163.17 L479.2 164.9 L479.87 165.37 L481.72 164.61 L481.55 165.97 L482.39 166.31 L482.87 167.03 L483.61 167.49 L484.98 167.36 L484.41 169.1 L485.32 169.42 L485.89 170.06 L486.07 171.09 L486.76 171.6 L487.6 171.95 L488.3 172.41 L489.22 172.93 L489.09 174.55 L489.96 175.03 L491.83 174.29 L491.93 175.67 L493.05 175.82 L493.48 176.97 L494.08 177.56 L495.62 176.68 L495.5 178.77 L496.32 179.04 L497.49 178.7 L498.09 179.44 L498.46 180.68 L499.72 180.23 L500.86 179.99 L501.15 181.51 L502.2 181.4 L503.31 181.06 L504.33 180.79 L504.32 183.28 L505.4 182.69 L506.4 182.58 L507.09 183.31 L507.89 183.5 L508.73 183.44 L509.64 183.02 L510.41 184 L511.51 183.04 L512.38 183.14 L513.36 183.2 L514.2 182.88 L515.01 184.07 L515.96 183.86 L516.86 183.32 L517.81 183.21 L518.6 183.41 L519.42 184.21 L520.29 184.25 L521.18 184.73 L522.11 184.26 L523.05 184.53 L524 184.32 L524.95 184.27 L525.91 183.62 L526.86 183.61 L527.79 184.12 L528.71 184.74 L529.62 184.14 L530.51 183.88 L531.36 183.66 L532.17 184.02 L533.14 183.7 L534.03 184.51 L534.85 183.8 L535.7 183.76 L536.5 184.38 L536.5 184.6" fill="none" stroke="#f04a4a" stroke-width="1.3" stroke-linejoin="round" stroke-linecap="round" />
<path d="M312 171.3 C316.67 171.28 333.82 171.52 340 171.2 C346.18 170.88 346.67 170.92 349.1 169.4 C351.53 167.88 352.77 166.05 354.6 162.1 C356.43 158.15 358.42 151.18 360.1 145.7 C361.78 140.22 363.18 133.77 364.7 129.2 C366.22 124.63 367.9 120.48 369.2 118.3 C370.5 116.12 371.28 115.8 372.5 116.1 C373.72 116.4 375.07 117.77 376.5 120.1 C377.93 122.43 379.57 127.05 381.1 130.1 C382.63 133.15 384.03 135.97 385.7 138.4 C387.37 140.83 389.28 142.58 391.1 144.7 C392.92 146.82 394.77 148.82 396.6 151.1 C398.43 153.38 400.27 156.42 402.1 158.4 C403.93 160.38 405.77 161.93 407.6 163 C409.43 164.07 411.53 164.3 413.1 164.8 C414.67 165.3 415.67 165.6 417 166 C418.33 166.4 419.4 167.82 421.1 167.2 C422.8 166.58 425.5 165.83 427.2 162.3 C428.9 158.77 429.93 152.45 431.3 146 C432.67 139.55 434.03 129.88 435.4 123.6 C436.77 117.32 438.38 111.53 439.5 108.3 C440.62 105.07 440.92 104.03 442.1 104.2 C443.28 104.37 445 106.07 446.6 109.3 C448.2 112.53 449.82 119.02 451.7 123.6 C453.58 128.18 455.85 133.4 457.9 136.8 C459.95 140.2 461.97 141.45 464 144 C466.03 146.55 468.07 149.38 470.1 152.1 C472.13 154.82 474.17 157.92 476.2 160.3 C478.23 162.68 480.25 164.35 482.3 166.4 C484.35 168.45 486.38 170.72 488.5 172.6 C490.62 174.48 492.25 176.03 495 177.7 C497.75 179.37 501.67 181.52 505 182.6 C508.33 183.68 509.75 183.87 515 184.2 C520.25 184.53 532.92 184.53 536.5 184.6" fill="none" stroke="#4f8ade" stroke-width="1.5" stroke-linejoin="round" stroke-linecap="round"/>
<path d="M498 181.5 C499.17 181.75 501.33 182.5 505 183 C508.67 183.5 514.75 184.22 520 184.5 C525.25 184.78 533.75 184.67 536.5 184.7" fill="none" stroke="#f08a2a" stroke-width="1.6" stroke-linejoin="round" stroke-linecap="round"/>
<path d="M340 171.5 C341.83 171 347.95 171.9 351 168.5 C354.05 165.1 355.87 157.95 358.3 151.1 C360.73 144.25 363.23 133.23 365.6 127.4 C367.97 121.57 370.37 116.4 372.5 116.1 C374.63 115.8 376.52 120.67 378.4 125.6 C380.28 130.53 381.98 139.32 383.8 145.7 C385.62 152.08 387.47 159.33 389.3 163.9 C391.13 168.47 393.02 171.33 394.8 173.1 C396.58 174.87 399.13 174.27 400 174.5" fill="none" stroke="#45bf62" stroke-width="1.25" stroke-linejoin="round" stroke-linecap="round"/>
<path d="M312 171.4 C316.67 171.43 329.85 171.48 340 171.6 C350.15 171.72 363.77 171.7 372.9 172.1 C382.03 172.5 386.95 173.25 394.8 174 C402.65 174.75 413.23 175.98 420 176.6 C426.77 177.22 429.43 177.37 435.4 177.7 C441.37 178.03 452.4 178.45 455.8 178.6" fill="none" stroke="#f08a2a" stroke-width="1.6" stroke-linejoin="round" stroke-linecap="round"/>
<line x1="373.2" y1="12.1" x2="373.2" y2="192.4" stroke="#4a4a4a" stroke-width="1.7" stroke-dasharray="2.9,1.75" stroke-dashoffset="1.1"/>
<line x1="442.8" y1="12.1" x2="442.8" y2="192.4" stroke="#4a4a4a" stroke-width="1.7" stroke-dasharray="2.9,1.75" stroke-dashoffset="1.1"/>
<text x="456" y="29.6" font-size="14" text-anchor="start" fill="#1a1a1a" >CNT/Bi<tspan font-size="9.5" dy="3">4</tspan><tspan dy="-3">O</tspan><tspan font-size="9.5" dy="3">5</tspan><tspan dy="-3">I</tspan><tspan font-size="9.5" dy="3">2</tspan></text>
<text x="478.9" y="141.9" font-size="14" text-anchor="start" fill="#1a1a1a" >Bi<tspan font-size="9.5" dy="3">4</tspan><tspan dy="-3">O</tspan><tspan font-size="9.5" dy="3">5</tspan><tspan dy="-3">I</tspan><tspan font-size="9.5" dy="3">2</tspan></text>
<text x="375.3" y="115.9" font-size="13.5" text-anchor="start" fill="#1a1a1a" >4f<tspan font-size="10" dy="3">5/2</tspan></text>
<text x="450.3" y="113.7" font-size="13.5" text-anchor="start" fill="#1a1a1a" >4f<tspan font-size="10" dy="3">7/2</tspan></text>
<rect x="40.2" y="242" width="225.6" height="181.1" fill="none" stroke="#5a5a5a" stroke-width="1.3"/>
<line x1="39.8" y1="423.1" x2="39.8" y2="426.1" stroke="#5a5a5a" stroke-width="1.1"/>
<line x1="83.5" y1="423.1" x2="83.5" y2="426.1" stroke="#5a5a5a" stroke-width="1.1"/>
<line x1="127.2" y1="423.1" x2="127.2" y2="426.1" stroke="#5a5a5a" stroke-width="1.1"/>
<line x1="170.9" y1="423.1" x2="170.9" y2="426.1" stroke="#5a5a5a" stroke-width="1.1"/>
<line x1="214.6" y1="423.1" x2="214.6" y2="426.1" stroke="#5a5a5a" stroke-width="1.1"/>
<line x1="258.3" y1="423.1" x2="258.3" y2="426.1" stroke="#5a5a5a" stroke-width="1.1"/>
<line x1="61.65" y1="423.1" x2="61.65" y2="424.7" stroke="#5a5a5a" stroke-width="1.1"/>
<line x1="105.35" y1="423.1" x2="105.35" y2="424.7" stroke="#5a5a5a" stroke-width="1.1"/>
<line x1="149.05" y1="423.1" x2="149.05" y2="424.7" stroke="#5a5a5a" stroke-width="1.1"/>
<line x1="192.75" y1="423.1" x2="192.75" y2="424.7" stroke="#5a5a5a" stroke-width="1.1"/>
<line x1="236.45" y1="423.1" x2="236.45" y2="424.7" stroke="#5a5a5a" stroke-width="1.1"/>
<text x="39.8" y="435.6" font-size="10.5" text-anchor="middle" fill="#1a1a1a" >635</text>
<text x="83.5" y="435.6" font-size="10.5" text-anchor="middle" fill="#1a1a1a" >630</text>
<text x="127.2" y="435.6" font-size="10.5" text-anchor="middle" fill="#1a1a1a" >625</text>
<text x="170.9" y="435.6" font-size="10.5" text-anchor="middle" fill="#1a1a1a" >620</text>
<text x="214.6" y="435.6" font-size="10.5" text-anchor="middle" fill="#1a1a1a" >615</text>
<text x="258.3" y="435.6" font-size="10.5" text-anchor="middle" fill="#1a1a1a" >610</text>
<text x="4" y="261.5" font-size="20" text-anchor="start" fill="#1a1a1a" >(c)</text>
<text x="51.6" y="257.5" font-size="12.5" text-anchor="start" fill="#1a1a1a" >I 3d</text>
<text x="90.4" y="452.5" font-size="13.5" text-anchor="start" fill="#1a1a1a" textLength="92.7" lengthAdjust="spacingAndGlyphs" >Binding Energy</text>
<text x="190.5" y="452.2" font-size="9" text-anchor="start" fill="#1a1a1a" >(</text>
<text x="215.2" y="452.2" font-size="9" text-anchor="start" fill="#1a1a1a" >)</text>
<text x="195.5" y="452.5" font-size="13.5" text-anchor="start" fill="#1a1a1a" textLength="16" lengthAdjust="spacingAndGlyphs" >eV</text>
<text x="0" y="0" font-size="13.5" text-anchor="start" fill="#1a1a1a" textLength="51.3" lengthAdjust="spacingAndGlyphs" transform="translate(28,392.6) rotate(-90)">Intensity</text>
<text x="0" y="0" font-size="13.5" text-anchor="start" fill="#1a1a1a" transform="translate(28.3,333.5) rotate(-90)">(</text>
<text x="0" y="0" font-size="13.5" text-anchor="start" fill="#1a1a1a" textLength="25.9" lengthAdjust="spacingAndGlyphs" transform="translate(28.3,324.7) rotate(-90)">a.u.)</text>
<path d="M41.06 308.28 L42.15 307.89 L43.16 309.6 L44.19 309.73 L45.34 308.8 L46.27 307.74 L47.14 308.81 L48.23 310.06 L49.25 309.73 L50.16 309.1 L51.18 308.24 L52.28 308.9 L53.3 309.06 L54.21 308.8 L55 308.29 L56.04 308.69 L56.54 307.79 L57.27 307.09 L57.66 306.16 L59.28 306.38 L59.08 304.82 L60.91 304.85 L60.16 303.16 L61.22 302.28 L62.1 301.68 L62.12 300.61 L61.83 299.39 L63.11 298.72 L62.51 297.3 L62.53 296.08 L62.84 294.92 L63.23 293.76 L65.77 293.26 L64.95 291.65 L66.11 290.64 L65.27 288.94 L66.32 287.68 L66.6 286.14 L66.81 284.55 L68.01 283.18 L67.87 281.48 L68.88 280.11 L67.13 278.07 L69.43 277.18 L69.43 275.78 L71.12 275.03 L71.34 273.64 L71.29 272.28 L70.51 270.71 L70.94 269.7 L71.69 268.92 L72.73 268.38 L71.52 266.38 L74.06 266.38 L74.39 265.44 L74.12 263.81 L75.76 263.68 L76.71 262.46 L78.33 262.5 L78.82 263.94 L79.95 264.65 L80.33 265.7 L80.14 267.09 L78.91 269.01 L80.84 269.55 L82.09 270.05 L81.31 271.49 L82.47 272.07 L83.39 272.75 L84.59 273.41 L82.98 275.16 L83.98 275.98 L84.92 276.85 L85.54 277.85 L84.55 279.46 L87.34 279.59 L85.81 281.42 L87.56 281.71 L86.99 282.99 L87.81 283.71 L89.11 284.23 L88.81 285.44 L88.79 286.52 L88.37 287.78 L89.03 288.53 L88.89 289.63 L91.88 289.48 L90.03 291.89 L89.99 293.25 L93.17 291.89 L93.67 292.87 L93.51 294.53 L94.96 294.64 L94.77 296.38 L95.49 296.98 L96.76 297.22 L97.28 298.05 L97.33 299.24 L99.24 299.07 L99.26 300.28 L99.47 301.35 L99.21 302.76 L100.63 302.93 L100.9 303.94 L101.61 304.63 L102.73 305.02 L102.42 306.44 L103.54 306.81 L104.48 307.28 L104.81 308.17 L106.61 307.81 L105.1 310.82 L106.8 310.59 L107 311.96 L108.38 311.98 L110.44 311 L109.24 314.22 L110.97 313.38 L112.13 313.21 L112.68 314.04 L113.76 313.85 L113.91 316.09 L115.65 314.65 L115.94 316.42 L116.79 316.98 L117.99 315.84 L118.97 316.04 L120.05 317.16 L121 317.38 L122.03 317.04 L123.11 317.06 L124.03 317.34 L124.92 318.16 L125.81 319.34 L127.3 316.65 L128.26 317.7 L129.21 318.96 L130.28 319.36 L131.47 318.81 L132.57 318.7 L133.51 320.16 L134.75 317.45 L135.67 318.28 L136.66 318.93 L137.73 318.45 L138.8 318.59 L139.89 317.97 L140.95 318.72 L142.04 317.86 L143.09 317.64 L144.13 319.12 L145.15 319.21 L146.14 319.53 L147.05 318.97 L148.13 319.29 L149.01 318.61 L150.27 318.79 L151.15 318.45 L152.47 319.53 L152.71 317.55 L153.97 318.01 L154.57 317.09 L155.49 316.34 L157.1 316.02 L156.13 314.07 L158.16 313.6 L156.46 311.8 L157.62 311.24 L156.87 309.86 L157.92 309.13 L158.26 308.07 L158.11 306.79 L159.58 306.01 L158.47 304.35 L160.12 303.5 L160.22 302.09 L161.33 300.84 L160.79 299.06 L161.09 297.43 L162.4 295.96 L163.41 294.37 L162.65 293.26 L162.49 292.29 L163.14 291.5 L163.98 290.74 L163.98 289.79 L163.83 288.81 L165.86 288.31 L164.48 287.06 L163.1 285.81 L165.42 285.39 L164.79 284.32 L163.7 282.25 L164.86 280.73 L165.08 279.02 L166.3 277.48 L167.42 276.8 L164.34 275.2 L166.54 274.75 L166.78 273.87 L165.88 272.74 L166.72 272 L167.5 271.24 L168.79 269.69 L168.44 267.82 L168.82 266.16 L169.61 264.68 L170.13 263.24 L170.62 261.89 L170.32 260.42 L171.07 259.38 L170.72 258.02 L170.67 256.81 L171.59 256.07 L172.21 255.31 L171.75 253.56 L173 252.92 L174.91 253.24 L175.23 252.15 L176.26 251.08 L177.15 252.38 L178.94 252.45 L177.62 254.64 L178.06 255.68 L180.68 255.73 L181.26 256.94 L180.06 258.53 L181.68 258.97 L183.01 259.64 L181.55 261.37 L181.87 262.51 L182.23 263.67 L182.79 264.81 L182.62 266.22 L183.98 267.15 L183.66 268.65 L185.2 269.43 L187.22 270.03 L185.12 272.03 L187 272.79 L187.6 273.99 L185.36 276.11 L187.61 276.81 L187.93 278.11 L188.09 279.45 L189.36 280.37 L188.83 281.87 L189.83 282.76 L189.67 284 L190.25 284.88 L190.17 285.98 L192.76 285.76 L191.67 287.74 L191.51 289.23 L194.21 289.04 L194.52 290.14 L193.9 291.83 L194.18 292.98 L194.71 293.99 L196.61 294.08 L196.13 295.62 L196.46 296.64 L198.05 296.76 L197.91 298.09 L198.63 298.82 L200.53 298.8 L200.41 300.18 L201.27 300.98 L201.05 302.52 L202.25 303.29 L201.82 304.96 L203.21 305.69 L203.85 306.79 L203.4 308.45 L203.38 309.88 L205.23 310.18 L205.88 311.08 L206.95 311.68 L206.74 313.1 L208.07 313.45 L208.94 314.05 L210.39 314.12 L210.58 315.09 L210.29 316.45 L211.62 316.63 L211.21 318.47 L212.74 317.82 L213.12 319.04 L214.41 318.64 L215.02 319.78 L215.76 320.58 L216.32 321.51 L217.59 320.76 L217.99 321.74 L219.14 321.34 L220.12 321.6 L221.24 323.69 L222.3 321.63 L223.29 322.45 L224.33 321.88 L225.29 321.83 L226.26 323.68 L227.2 322.52 L228.15 322.34 L229.14 322 L230.17 321.58 L231.2 322.89 L232.3 322.55 L233.42 321.89 L234.3 323.86 L235.26 320.93 L236.17 323.18 L237.14 321.39 L238.08 322.33 L239.06 320.96 L240.02 321.64 L240.98 322.51 L241.95 323.84 L242.94 322.4 L243.92 322.25 L244.9 322.09 L245.87 323.53 L246.84 323.2 L247.81 323.17 L248.78 322.33 L249.72 323.26 L250.67 322.67 L251.6 321.84 L252.51 322.92 L253.42 321.52 L254.52 322.37 L255.59 322.81 L256.64 321.75 L257.65 322.24 L258.61 322.86 L259.54 323.11 L260.61 322.69 L261.61 322.39 L262.53 321.76 L263.51 322.47 L264.47 323.18 L265 323.76" fill="none" stroke="#ff3a3a" stroke-width="1.4" stroke-linejoin="round" stroke-linecap="round" />
<path d="M41 309.8 C42.5 309.83 47.33 310.2 50 310 C52.67 309.8 55.08 309.7 57 308.6 C58.92 307.5 60 306.28 61.5 303.4 C63 300.52 64.52 296.07 66 291.3 C67.48 286.53 69.08 278.97 70.4 274.8 C71.72 270.63 72.92 268.22 73.9 266.3 C74.88 264.38 75.38 263.43 76.3 263.3 C77.22 263.17 78.38 264.12 79.4 265.5 C80.42 266.88 81.28 268.97 82.4 271.6 C83.52 274.23 84.73 278.05 86.1 281.3 C87.47 284.55 89.08 288.58 90.6 291.1 C92.12 293.62 93.68 294.52 95.2 296.4 C96.72 298.28 98.2 300.4 99.7 302.4 C101.2 304.4 102.45 306.52 104.2 308.4 C105.95 310.28 108.2 312.32 110.2 313.7 C112.2 315.08 114.57 316.07 116.2 316.7 C117.83 317.33 116.87 317.03 120 317.5 C123.13 317.97 130 319.18 135 319.5 C140 319.82 146.57 319.98 150 319.4 C153.43 318.82 153.8 318.73 155.6 316 C157.4 313.27 159.07 308.83 160.8 303 C162.53 297.17 164.3 288.17 166 281 C167.7 273.83 169.37 264.85 171 260 C172.63 255.15 174.28 252.4 175.8 251.9 C177.32 251.4 178.67 254.13 180.1 257 C181.53 259.87 182.82 264.5 184.4 269.1 C185.98 273.7 187.88 280.45 189.6 284.6 C191.32 288.75 192.98 291.13 194.7 294 C196.42 296.87 198.18 298.93 199.9 301.8 C201.62 304.67 203.28 308.48 205 311.2 C206.72 313.92 208.47 316.43 210.2 318.1 C211.93 319.77 213.43 320.38 215.4 321.2 C217.37 322.02 213.73 322.6 222 323 C230.27 323.4 257.83 323.5 265 323.6" fill="none" stroke="#5a92dc" stroke-width="1.6" stroke-linejoin="round" stroke-linecap="round"/>
<path d="M50 310 C51.17 309.87 54.33 312.32 57 309.2 C59.67 306.08 63.53 297.53 66 291.3 C68.47 285.07 70.17 275.72 71.8 271.8 C73.43 267.88 74.42 267.33 75.8 267.8 C77.18 268.27 78.75 271.22 80.1 274.6 C81.45 277.98 82.52 282.83 83.9 288.1 C85.28 293.37 86.52 301.43 88.4 306.2 C90.28 310.97 92.93 314.57 95.2 316.7 C97.47 318.83 100.87 318.62 102 319" fill="none" stroke="#8fe0aa" stroke-width="1.0" stroke-linejoin="round" stroke-linecap="round"/>
<path d="M145 320.2 C146.7 319.57 152.65 319.18 155.2 316.4 C157.75 313.62 158.3 310.82 160.3 303.5 C162.3 296.18 164.9 280.82 167.2 272.5 C169.5 264.18 172.1 255.88 174.1 253.6 C176.1 251.32 177.48 255.07 179.2 258.8 C180.92 262.53 182.67 269.13 184.4 276 C186.13 282.87 187.88 293.13 189.6 300 C191.32 306.87 192.97 313.53 194.7 317.2 C196.43 320.87 198.12 321.03 200 322 C201.88 322.97 205 322.83 206 323" fill="none" stroke="#8fe0aa" stroke-width="1.0" stroke-linejoin="round" stroke-linecap="round"/>
<path d="M41 309.8 C42.5 309.83 45.5 309.72 50 310 C54.5 310.28 63 310.63 68 311.5 C73 312.37 75.47 314.08 80 315.2 C84.53 316.32 90.17 317.45 95.2 318.2 C100.23 318.95 106.07 319.4 110.2 319.7 C114.33 320 113.37 319.88 120 320 C126.63 320.12 141 320.23 150 320.4 C159 320.57 168.33 320.77 174 321 C179.67 321.23 179.67 321.47 184 321.8 C188.33 322.13 194.83 322.72 200 323 C205.17 323.28 204.17 323.4 215 323.5 C225.83 323.6 256.67 323.58 265 323.6" fill="none" stroke="#2a5aa6" stroke-width="1.6" stroke-linejoin="round" stroke-linecap="round"/>
<path d="M50 310 C53.27 309.87 65.08 309.47 69.6 309.2 C74.12 308.93 74.6 309.4 77.1 308.4 C79.6 307.4 82.62 304.77 84.6 303.2 C86.58 301.63 87.48 300.02 89 299 C90.52 297.98 91.92 296.9 93.7 297.1 C95.48 297.3 97.45 298.32 99.7 300.2 C101.95 302.08 104.95 306.15 107.2 308.4 C109.45 310.65 111.07 312.32 113.2 313.7 C115.33 315.08 117.53 315.77 120 316.7 C122.47 317.63 125.5 318.75 128 319.3 C130.5 319.85 133.83 319.88 135 320" fill="none" stroke="#2a5aa6" stroke-width="1.6" stroke-linejoin="round" stroke-linecap="round"/>
<path d="M150 320.4 C154.02 320.27 168.37 320.7 174.1 319.6 C179.83 318.5 181.75 316.4 184.4 313.8 C187.05 311.2 188.28 306.58 190 304 C191.72 301.42 192.77 298.38 194.7 298.3 C196.63 298.22 199.02 300.35 201.6 303.5 C204.18 306.65 207.9 314.2 210.2 317.2 C212.5 320.2 213.43 320.48 215.4 321.5 C217.37 322.52 220.9 323 222 323.3" fill="none" stroke="#2a5aa6" stroke-width="1.6" stroke-linejoin="round" stroke-linecap="round"/>
<path d="M41 398.2 C45.08 397.75 59.6 396.27 65.5 395.5 C71.4 394.73 73.38 394.68 76.4 393.6 C79.42 392.52 81.83 390.77 83.6 389 C85.37 387.23 85.78 384.95 87 383 C88.22 381.05 89.33 377.35 90.9 377.3 C92.47 377.25 94.28 379.83 96.4 382.7 C98.52 385.57 100.88 391.17 103.6 394.5 C106.32 397.83 109.67 400.63 112.7 402.7 C115.73 404.77 118.92 405.93 121.8 406.9 C124.68 407.87 128.63 408.23 130 408.5" fill="none" stroke="#8ea8d8" stroke-width="1.1" stroke-linejoin="round" stroke-linecap="round"/>
<path d="M150 409.4 C152.58 409.02 160.67 408.23 165.5 407.1 C170.33 405.97 175.58 404.95 179 402.6 C182.42 400.25 183.73 396.38 186 393 C188.27 389.62 190.2 382.8 192.6 382.3 C195 381.8 197.82 386.62 200.4 390 C202.98 393.38 205.52 399.68 208.1 402.6 C210.68 405.52 213.08 406.18 215.9 407.5 C218.72 408.82 223.48 410 225 410.5" fill="none" stroke="#2a5aa6" stroke-width="1.6" stroke-linejoin="round" stroke-linecap="round"/>
<path d="M40.97 397.48 L41.97 397.97 L42.79 394.95 L43.8 397.35 L44.81 397.58 L45.93 398.83 L47.09 399.58 L48.03 399.72 L48.94 398.63 L49.93 399.41 L50.84 398.31 L51.84 399.12 L52.84 400.39 L53.74 399.95 L54.82 399.5 L55.92 400.38 L56.76 398.71 L57.78 398.8 L58.65 397.66 L59.9 399.03 L60.96 398.35 L61.89 397.45 L62.01 395.61 L63.65 396.2 L62.92 393.96 L64.88 394.44 L64.18 392.76 L65.79 392.45 L66.42 391.37 L67.43 390.8 L66.93 389.52 L65.33 387.8 L68.1 387.54 L66.73 385.79 L67.27 384.58 L69.04 383.62 L68.19 381.89 L68.35 380.4 L70.1 379.3 L70.66 377.88 L69.7 376.09 L70.72 374.67 L69.67 372.64 L71.25 372.08 L72.75 371.48 L72.04 370.38 L73.17 369.69 L71.78 368.44 L72.02 367.56 L73.33 366.07 L74.12 364.58 L73.09 362.72 L74.51 361.81 L73.65 360.3 L75.75 360.13 L75.8 358.71 L76.57 357.92 L77.42 357.54 L76.83 354.15 L79.06 354.7 L79.46 356.99 L81.15 357.05 L79.96 359.17 L82.81 358.99 L83.3 360.39 L82.59 361.89 L82.97 363.05 L83.84 364.16 L84.41 365.4 L84.14 366.9 L84.14 368.29 L85 369.33 L85.26 370.44 L86.59 370.99 L86.46 372.12 L86.98 372.9 L86.2 374.84 L87.76 375.36 L88.34 376.29 L88.82 377.14 L89.64 377.57 L90.41 378.04 L90.72 379.31 L92.85 378.68 L93.38 379.56 L92.87 381.11 L94.28 381.72 L93.71 383.46 L94.08 384.76 L95.48 385.48 L97.37 385.8 L96.78 387.46 L96.33 388.96 L98.12 388.97 L97.99 390.26 L98.71 390.97 L100.27 391.03 L99.73 392.7 L100.58 393.3 L101.7 393.67 L104.1 392.68 L104.41 393.73 L104.93 394.65 L105.84 395.19 L107.54 394.85 L108.78 394.95 L108.59 396.7 L109.97 396.53 L111.8 395.56 L111.65 397.17 L111.88 398.23 L112.97 398.26 L113.63 398.93 L114.58 399.04 L115.25 399.85 L115.8 401.15 L116.8 401.58 L117.81 401.95 L118.22 403.47 L119.17 403.58 L119.61 405.08 L120.94 404.12 L121.78 404.62 L122.17 406.95 L123.6 405.83 L124.37 406.59 L125.32 406.84 L126.19 407.28 L127.14 406.98 L128.15 406.49 L128.93 408.46 L130.15 406.7 L131.1 407.87 L132.11 408.66 L133.26 407.87 L134.38 407.38 L135.39 408.07 L136.46 407.83 L137.43 408.43 L138.38 408.67 L139.4 407.46 L140.2 409.16 L141.27 407.63 L142.29 408.3 L143.24 408.92 L144.19 408.99 L145.1 409.14 L146.02 409.02 L146.91 409.09 L147.82 409.21 L148.79 410.71 L149.84 410.83 L150.74 408.74 L151.77 409.53 L152.82 409.47 L153.89 409.11 L155 409.86 L155.93 407.59 L157.09 408.76 L158.13 408.74 L159.32 409.2 L159.68 407.36 L160.47 407.12 L160.88 406.04 L161.89 405.77 L163.65 405.91 L164.63 405.16 L163.3 403.08 L165.35 402.74 L165.42 401.33 L165.78 400.47 L165.57 399.37 L165.84 398.39 L167.41 397.72 L167.42 396.52 L168.7 395.27 L167.07 393.86 L167.88 392.99 L169.33 392.19 L167.32 390.68 L168.36 389.71 L169.39 388.69 L169.09 387.42 L169.42 386.23 L169.04 384.91 L169.14 383.66 L169.96 382.49 L169.32 381.11 L171.97 380.2 L170.3 378.68 L169.67 377.31 L169.61 376.03 L169.92 374.82 L171.61 373.86 L172.33 372.77 L171.43 371.41 L169.49 369.84 L171.34 368.86 L172.36 367.71 L173.32 366.54 L172.04 365 L172.73 363.77 L172.16 362.35 L172.61 361.09 L174.88 360.14 L173.27 358.59 L172.73 357.24 L174.05 356.23 L174.74 355.16 L174.9 354.06 L175.22 353.04 L172.56 351.51 L173.38 350.69 L175.36 349.44 L174 348.13 L176.34 347.14 L176.3 345.89 L176.8 345.15 L176.99 344.11 L178.1 343.02 L180.15 342.63 L180.47 344.48 L180.54 345.82 L181.35 346.85 L181.49 347.87 L182.37 348.63 L181.82 349.97 L183.05 350.63 L183.58 351.67 L184.34 352.74 L183.33 354.42 L184.7 355.45 L184.99 356.83 L184.52 358.46 L184 360.1 L185.51 361.13 L187.03 362.12 L186.51 363.67 L188.89 364.22 L187.95 365.85 L187.35 367.38 L188.23 368.4 L189.07 369.42 L189.48 370.57 L189.32 371.9 L190.26 372.84 L192.58 373.24 L191.41 374.89 L191.23 376.17 L191.15 377.4 L190.55 378.82 L192.42 379.17 L192.37 380.28 L193.02 381.07 L193.02 382.11 L194.39 382.54 L194.99 383.28 L194.06 384.71 L193.95 385.78 L195.59 386 L196.77 386.42 L196.46 387.58 L196.78 388.43 L196.23 390.12 L197.62 390.71 L199.2 391.19 L199.82 392.18 L200.31 393.24 L201.44 393.9 L202.33 394.64 L202.46 395.83 L202.54 397.01 L202.65 398.14 L204.25 398.12 L204.5 399.05 L205.11 400 L206.42 400.19 L205.95 402.12 L206.72 402.82 L207.77 403.19 L207.87 404.92 L208.12 406.36 L209.69 405.87 L211.12 405.48 L211.4 406.98 L212.48 407.2 L213.03 408.85 L214.77 406.84 L215.24 408.85 L216.44 408.23 L217.39 408.03 L218.65 406.5 L219.39 408.12 L220.21 408.89 L221.14 409.61 L222.29 408.73 L223.23 409.54 L224.35 409.11 L225.33 408.62 L226.41 407.72 L227.45 409.66 L228.45 407.69 L229.29 410.42 L230.4 407.32 L231.21 409.46 L232.21 409.27 L233.26 409.39 L234.22 408.86 L235.19 409.12 L236.2 409.38 L237.25 409.71 L238.33 409.62 L239.46 409.16 L240.35 409.67 L241.27 409.82 L242.18 410.46 L243.16 409.3 L244.12 408.95 L245.04 410.2 L246.04 408.59 L246.97 409.45 L247.93 409.36 L248.85 410.85 L249.84 408.99 L250.8 408.5 L251.75 407.97 L252.62 410.06 L253.54 409.64 L254.68 409.02 L255.76 409.21 L256.8 410.18 L257.84 409.64 L258.85 408.93 L259.79 409.29 L260.68 409.81 L261.72 408.95 L262.61 411.01 L263.64 409.49 L264.59 410.4 L265.02 410.17" fill="none" stroke="#ff3a3a" stroke-width="1.4" stroke-linejoin="round" stroke-linecap="round" />
<path d="M41 398.2 C43.87 398.05 54.43 397.75 58.2 397.3 C61.97 396.85 62.08 396.87 63.6 395.5 C65.12 394.13 66.08 392.28 67.3 389.1 C68.52 385.92 69.7 380.95 70.9 376.4 C72.1 371.85 73.28 365.13 74.5 361.8 C75.72 358.47 76.98 356.7 78.2 356.4 C79.42 356.1 80.58 357.58 81.8 360 C83.02 362.42 84.28 368.02 85.5 370.9 C86.72 373.78 88.05 375.93 89.1 377.3 C90.15 378.67 90.58 377.43 91.8 379.1 C93.02 380.77 94.73 384.73 96.4 387.3 C98.07 389.87 99.68 392.23 101.8 394.5 C103.92 396.77 106.67 399.23 109.1 400.9 C111.53 402.57 113.67 403.43 116.4 404.5 C119.13 405.57 121.57 406.6 125.5 407.3 C129.43 408 135.92 408.35 140 408.7 C144.08 409.05 146.4 409.6 150 409.4 C153.6 409.2 158.7 409.75 161.6 407.5 C164.5 405.25 165.78 401.72 167.4 395.9 C169.02 390.08 170 380.35 171.3 372.6 C172.6 364.85 174.07 354.18 175.2 349.4 C176.33 344.62 176.97 343.9 178.1 343.9 C179.23 343.9 180.55 345.9 182 349.4 C183.45 352.9 185.2 360.07 186.8 364.9 C188.4 369.73 189.98 374.37 191.6 378.4 C193.22 382.43 194.72 385.7 196.5 389.1 C198.28 392.5 200.37 396.22 202.3 398.8 C204.23 401.38 205.83 402.98 208.1 404.6 C210.37 406.22 212.25 407.63 215.9 408.5 C219.55 409.37 221.82 409.42 230 409.8 C238.18 410.18 259.17 410.63 265 410.8" fill="none" stroke="#5a92dc" stroke-width="1.6" stroke-linejoin="round" stroke-linecap="round"/>
<path d="M58 397.6 C58.93 397.4 61.45 399.03 63.6 396.4 C65.75 393.77 68.47 387.32 70.9 381.8 C73.33 376.28 76.08 364.52 78.2 363.3 C80.32 362.08 81.93 369.6 83.6 374.5 C85.27 379.4 86.68 387.7 88.2 392.7 C89.72 397.7 90.13 401.88 92.7 404.5 C95.27 407.12 100.27 407.63 103.6 408.4 C106.93 409.17 106.63 408.9 112.7 409.1 C118.77 409.3 133.78 409.47 140 409.6 C146.22 409.73 148.33 409.85 150 409.9" fill="none" stroke="#8fe0aa" stroke-width="1.1" stroke-linejoin="round" stroke-linecap="round"/>
<path d="M150 409.5 C151.93 409.17 158.37 412.35 161.6 407.5 C164.83 402.65 166.65 389.6 169.4 380.4 C172.15 371.2 175.68 354.57 178.1 352.3 C180.52 350.03 182.13 360.83 183.9 366.8 C185.67 372.77 186.77 381 188.7 388.1 C190.63 395.2 193.28 405.62 195.5 409.4 C197.72 413.18 196.25 410.47 202 410.8 C207.75 411.13 219.67 411.1 230 411.4 C240.33 411.7 258.33 412.4 264 412.6" fill="none" stroke="#8fe0aa" stroke-width="1.1" stroke-linejoin="round" stroke-linecap="round"/>
<path d="M41 398.5 C44.77 398.38 57.7 397.55 63.6 397.8 C69.5 398.05 72.75 399.03 76.4 400 C80.05 400.97 82.48 402.53 85.5 403.6 C88.52 404.67 89.97 405.55 94.5 406.4 C99.03 407.25 105.12 408.23 112.7 408.7 C120.28 409.17 133.78 409.07 140 409.2 C146.22 409.33 140 409.28 150 409.5 C160 409.72 186.67 410.25 200 410.5 C213.33 410.75 219.17 410.68 230 411 C240.83 411.32 259.17 412.17 265 412.4" fill="none" stroke="#2a5aa6" stroke-width="1.6" stroke-linejoin="round" stroke-linecap="round"/>
<text x="191" y="272.7" font-size="13.5" text-anchor="start" fill="#1a1a1a" >CNT/Bi<tspan font-size="9.5" dy="3">4</tspan><tspan dy="-3">O</tspan><tspan font-size="9.5" dy="3">5</tspan><tspan dy="-3">I</tspan><tspan font-size="9.5" dy="3">2</tspan></text>
<text x="214.8" y="371.6" font-size="14" text-anchor="start" fill="#1a1a1a" >Bi<tspan font-size="10" dy="3">4</tspan><tspan dy="-3">O</tspan><tspan font-size="10" dy="3">5</tspan><tspan dy="-3">I</tspan><tspan font-size="10" dy="3">2</tspan></text>
<text x="92.8" y="359.5" font-size="13" text-anchor="start" fill="#1a1a1a" >3d<tspan font-size="9.5" dy="3">3/2</tspan></text>
<text x="188.2" y="347" font-size="13" text-anchor="start" fill="#1a1a1a" >3d<tspan font-size="9.5" dy="3">5/2</tspan></text>
<rect x="314.4" y="241.6" width="223.4" height="179.7" fill="none" stroke="#5a5a5a" stroke-width="1.3"/>
<line x1="331.4" y1="421.3" x2="331.4" y2="424.3" stroke="#5a5a5a" stroke-width="1.1"/>
<line x1="365.7" y1="421.3" x2="365.7" y2="424.3" stroke="#5a5a5a" stroke-width="1.1"/>
<line x1="400" y1="421.3" x2="400" y2="424.3" stroke="#5a5a5a" stroke-width="1.1"/>
<line x1="434.3" y1="421.3" x2="434.3" y2="424.3" stroke="#5a5a5a" stroke-width="1.1"/>
<line x1="468.6" y1="421.3" x2="468.6" y2="424.3" stroke="#5a5a5a" stroke-width="1.1"/>
<line x1="502.9" y1="421.3" x2="502.9" y2="424.3" stroke="#5a5a5a" stroke-width="1.1"/>
<line x1="537.2" y1="421.3" x2="537.2" y2="424.3" stroke="#5a5a5a" stroke-width="1.1"/>
<line x1="348.55" y1="421.3" x2="348.55" y2="422.9" stroke="#5a5a5a" stroke-width="1.1"/>
<line x1="382.85" y1="421.3" x2="382.85" y2="422.9" stroke="#5a5a5a" stroke-width="1.1"/>
<line x1="417.15" y1="421.3" x2="417.15" y2="422.9" stroke="#5a5a5a" stroke-width="1.1"/>
<line x1="451.45" y1="421.3" x2="451.45" y2="422.9" stroke="#5a5a5a" stroke-width="1.1"/>
<line x1="485.75" y1="421.3" x2="485.75" y2="422.9" stroke="#5a5a5a" stroke-width="1.1"/>
<line x1="520.05" y1="421.3" x2="520.05" y2="422.9" stroke="#5a5a5a" stroke-width="1.1"/>
<text x="331.4" y="436" font-size="10.5" text-anchor="middle" fill="#1a1a1a" >290</text>
<text x="365.7" y="436" font-size="10.5" text-anchor="middle" fill="#1a1a1a" >288</text>
<text x="400" y="436" font-size="10.5" text-anchor="middle" fill="#1a1a1a" >286</text>
<text x="434.3" y="436" font-size="10.5" text-anchor="middle" fill="#1a1a1a" >284</text>
<text x="468.6" y="436" font-size="10.5" text-anchor="middle" fill="#1a1a1a" >282</text>
<text x="502.9" y="436" font-size="10.5" text-anchor="middle" fill="#1a1a1a" >280</text>
<text x="537.2" y="436" font-size="10.5" text-anchor="middle" fill="#1a1a1a" >278</text>
<text x="280.5" y="261" font-size="20" text-anchor="start" fill="#1a1a1a" >(d)</text>
<text x="330.7" y="268.8" font-size="13" text-anchor="start" fill="#1a1a1a" >C 1s</text>
<text x="357" y="459.5" font-size="13.5" text-anchor="start" fill="#1a1a1a" textLength="91.7" lengthAdjust="spacingAndGlyphs" >Binding Energy</text>
<text x="457.7" y="460" font-size="13.5" text-anchor="start" fill="#1a1a1a" >(</text>
<text x="480.5" y="460" font-size="13.5" text-anchor="start" fill="#1a1a1a" >)</text>
<text x="465.5" y="459.5" font-size="13.5" text-anchor="start" fill="#1a1a1a" textLength="15.4" lengthAdjust="spacingAndGlyphs" >eV</text>
<text x="0" y="0" font-size="13.5" text-anchor="start" fill="#1a1a1a" textLength="55.2" lengthAdjust="spacingAndGlyphs" transform="translate(296.9,382.2) rotate(-90)">Intensity</text>
<text x="0" y="0" font-size="13.5" text-anchor="start" fill="#1a1a1a" transform="translate(297.2,316.7) rotate(-90)">(</text>
<text x="0" y="0" font-size="13.5" text-anchor="start" fill="#1a1a1a" textLength="28.7" lengthAdjust="spacingAndGlyphs" transform="translate(297.2,308.5) rotate(-90)">a.u.)</text>
<path d="M315 395.1 C319.17 395.1 326.13 394.77 340 395.1 C353.87 395.43 383.65 396.28 398.2 397.1 C412.75 397.92 417.6 399.03 427.3 400 C437 400.97 444.28 401.93 456.4 402.9 C468.52 403.87 486.57 405.18 500 405.8 C513.43 406.42 530.83 406.47 537 406.6" fill="none" stroke="#4a86d0" stroke-width="1.6" stroke-linejoin="round" stroke-linecap="round"/>
<path d="M315 394.8 C319.17 394.8 329.17 394.87 340 394.8 C350.83 394.73 370 394.57 380 394.4 C390 394.23 394.55 394.15 400 393.8 C405.45 393.45 408.15 393.68 412.7 392.3 C417.25 390.92 422.93 389.3 427.3 385.5 C431.67 381.7 435.52 375.08 438.9 369.5 C442.28 363.92 444.68 356.37 447.6 352 C450.52 347.63 453.48 343.3 456.4 343.3 C459.32 343.3 462.2 347.63 465.1 352 C468 356.37 470.9 363.67 473.8 369.5 C476.7 375.33 479.58 382.4 482.5 387 C485.42 391.6 488.38 394.68 491.3 397.1 C494.22 399.52 496.05 400.43 500 401.5 C503.95 402.57 508.83 403.03 515 403.5 C521.17 403.97 533.33 404.17 537 404.3" fill="none" stroke="#f5a04e" stroke-width="1.5" stroke-linejoin="round" stroke-linecap="round"/>
<path d="M315 393.3 C319.17 393.3 332.92 393.52 340 393.3 C347.08 393.08 351.68 393 357.5 392 C363.32 391 370.07 389.63 374.9 387.3 C379.73 384.97 383.1 382.92 386.5 378 C389.9 373.08 393.22 363.3 395.3 357.8 C397.38 352.3 397.12 352.33 399 345 C400.88 337.67 404.27 324.02 406.6 313.8 C408.93 303.58 411.22 291.58 413 283.7 C414.78 275.82 415.87 270.8 417.3 266.5 C418.73 262.2 420.17 258.43 421.6 257.9 C423.03 257.37 424.47 260.07 425.9 263.3 C427.33 266.53 428.77 272.1 430.2 277.3 C431.63 282.5 433.07 289.48 434.5 294.5 C435.93 299.52 437.18 303.28 438.8 307.4 C440.42 311.52 442.72 316.57 444.2 319.2 C445.68 321.83 445.82 321.67 447.7 323.2 C449.58 324.73 452.92 325.82 455.5 328.4 C458.08 330.98 460.63 334.42 463.2 338.7 C465.77 342.98 468.32 348.52 470.9 354.1 C473.48 359.68 476.55 367.03 478.7 372.2 C480.85 377.37 481.67 381.23 483.8 385.1 C485.93 388.97 488.07 392.62 491.5 395.4 C494.93 398.18 500.1 400.52 504.4 401.8 C508.7 403.08 511.87 402.68 517.3 403.1 C522.73 403.52 533.72 404.1 537 404.3" fill="none" stroke="#4a86d8" stroke-width="1.6" stroke-linejoin="round" stroke-linecap="round"/>
<path d="M315 394 C319.17 393.97 332.92 394.12 340 393.8 C347.08 393.48 351.68 393.15 357.5 392.1 C363.32 391.05 370.07 389.82 374.9 387.5 C379.73 385.18 383.1 383.15 386.5 378.2 C389.9 373.25 392.63 365.57 395.3 357.8 C397.97 350.03 400.62 338.57 402.5 331.6 C404.38 324.63 404.85 323.27 406.6 316 C408.35 308.73 411.03 295.53 413 288 C414.97 280.47 417.03 274.57 418.4 270.8 C419.77 267.03 419.95 265.03 421.2 265.4 C422.45 265.77 424.22 268.15 425.9 273 C427.58 277.85 429.5 286.98 431.3 294.5 C433.1 302.02 435.18 309 436.7 318.1 C438.22 327.2 438.82 340.05 440.4 349.1 C441.98 358.15 443.53 365.62 446.2 372.4 C448.87 379.18 452.28 385.45 456.4 389.8 C460.52 394.15 463.63 396.32 470.9 398.5 C478.17 400.68 488.98 401.92 500 402.9 C511.02 403.88 530.83 404.15 537 404.4" fill="none" stroke="#2eb84e" stroke-width="1.6" stroke-linejoin="round" stroke-linecap="round"/>
<path d="M315.01 390.15 L316.45 390.79 L317.97 393.35 L319.42 389.84 L320.97 390.21 L322.42 390.19 L323.93 390.55 L325.52 387.76 L327.13 388.41 L328.75 387.94 L330.14 390.94 L331.76 392.03 L333.35 393.47 L334.9 392.23 L336.44 397 L337.74 389.2 L339.23 390.3 L340.64 390.66 L342.2 389.09 L343.79 391.23 L345.22 390.44 L346.55 389.1 L348.31 393.56 L349.44 387.76 L351 389.53 L352.36 388.88 L354.18 392 L355.67 391.76 L356.43 386.76 L358.38 389.9 L359.92 390.23 L361.04 388.28 L361.98 385.63 L365.02 392.58 L365.03 386.13 L366.65 386.7 L367.7 385.29 L370.12 388.45 L370.83 386.27 L371.02 382.8 L373.35 384.81 L375.37 385.84 L376.74 385.19 L378.11 384.66 L377.83 381.65 L379.17 381.42 L381.18 381.87 L380.61 379.3 L384 380.64 L386.24 380.4 L380.85 374.68 L385.26 376.25 L382.98 373.05 L385.93 373.21 L387.42 372.36 L386.84 370.45 L389.8 370.06 L390.98 368.82 L390.5 366.89 L391.16 365.44 L389.58 363.15 L387.17 360.62 L393.07 361.23 L394.32 360.18 L391.93 357.41 L392.25 355.73 L391.48 353.92 L395.41 353.42 L393.99 351.46 L395.24 350.16 L399.13 349.04 L396.19 346.51 L399.96 345.25 L396.97 342.57 L398.62 340.86 L398.75 339.38 L394.31 336.68 L394.75 335.14 L397.39 334.1 L398.43 332.6 L401.37 331.54 L398.32 328.97 L399.14 327.33 L402.69 326.34 L405.52 325.16 L403.17 322.74 L403.25 320.92 L401.45 318.68 L405.15 317.76 L406.07 316.22 L403.92 314.02 L404.36 312.28 L403.05 309.95 L402.69 307.82 L407.06 306.67 L411.47 305.51 L407.93 302.65 L408.97 300.77 L407.54 298.4 L413.54 297.58 L409.99 294.82 L409 292.63 L410.37 290.99 L408.8 288.78 L409.52 287.12 L409.7 285.41 L407.83 283.34 L407.69 281.39 L408.2 279.39 L410.33 277.88 L411.63 276.31 L411.38 274.49 L412.11 272.99 L414.69 272.04 L413.34 270.17 L412.41 267.73 L415.28 266.51 L417.79 265.38 L415.57 262.69 L418.08 261.83 L420.53 261.31 L420.5 259.48 L422.34 260.17 L422.93 257.17 L423.71 259.22 L425.37 260 L428.4 260.53 L429.57 261.72 L427.98 264.18 L423.74 267.52 L426.63 268.57 L426.42 270.77 L430.75 271.02 L433.46 271.79 L432.7 273.54 L432.7 275.08 L432.82 276.59 L433.4 278.03 L431.71 280.11 L434.15 281.2 L432.62 283.3 L430.8 285.47 L433.09 286.66 L437.09 287.43 L434.76 289.68 L431.28 292.22 L436.77 292.37 L436.42 293.95 L437.42 295.79 L436.06 298.23 L438.03 299.55 L441.17 300.36 L437.93 303.32 L440.2 304.35 L440.58 306.07 L438.74 308.5 L440.74 309.35 L442.49 310.31 L440.67 312.82 L444.51 312.78 L441.63 315.76 L445.62 315.37 L446.21 316.9 L446.22 318.58 L444.94 321.03 L445.49 322.57 L444.93 326.16 L448.5 324.08 L450.16 324.21 L452.37 323.6 L454.46 323.23 L455.13 325.34 L455.53 327.56 L458.49 327.15 L458.45 329.31 L459.16 330.8 L458.17 333.59 L462.42 332.6 L461.29 335.53 L466.11 334.17 L463 337.93 L463.47 339.44 L465.22 340.3 L464.81 342.41 L463.88 344.8 L464.82 346.27 L466.24 347.55 L468.28 348.6 L471.68 349.05 L472.34 350.31 L472.3 351.89 L473.66 352.83 L468.79 356.61 L470.98 357.21 L472.11 358.35 L471.94 360.1 L475.25 360.35 L474.37 362.43 L473.76 364.38 L477.86 364.32 L476.38 366.6 L477.21 367.86 L475.42 370.18 L480.16 370.19 L480.27 372.26 L483.49 373.03 L486.24 373.95 L484.33 376.4 L482.2 378.8 L481.23 380.77 L486.07 380.41 L484.17 382.72 L485.75 383.52 L485.97 385.05 L480.21 390.33 L485.72 389.04 L487.75 389.65 L489.02 390.68 L489.55 392.26 L492.62 391.41 L492.07 394.2 L494.87 392.9 L495.05 394.99 L496.78 394.88 L499.6 392.63 L499.91 395.16 L500 398.63 L502.2 397.25 L502.48 400.8 L504.67 398.85 L506.69 396.12 L507.02 400.6 L508.47 400.01 L509.7 401.43 L511.23 399.68 L512.78 398.95 L514.23 399.12 L515.77 400.16 L517 403.85 L518.56 402.79 L520.22 401.65 L521.89 398.85 L523.14 404.04 L525.07 399.03 L526.32 401.64 L527.58 404.26 L529.53 398.52 L531.04 399.45 L532.36 402.39 L534.01 400.71 L535.6 399.67 L536.83 403.66 L537.32 399.05" fill="none" stroke="#f55252" stroke-width="1.2" stroke-linejoin="round" stroke-linecap="round" />
<text x="439.2" y="268.8" font-size="13.5" text-anchor="start" fill="#1a1a1a" >CNT/Bi<tspan font-size="9.5" dy="3">4</tspan><tspan dy="-3">O</tspan><tspan font-size="9.5" dy="3">5</tspan><tspan dy="-3">I</tspan><tspan font-size="9.5" dy="3">2</tspan></text>
</svg></body></html>
